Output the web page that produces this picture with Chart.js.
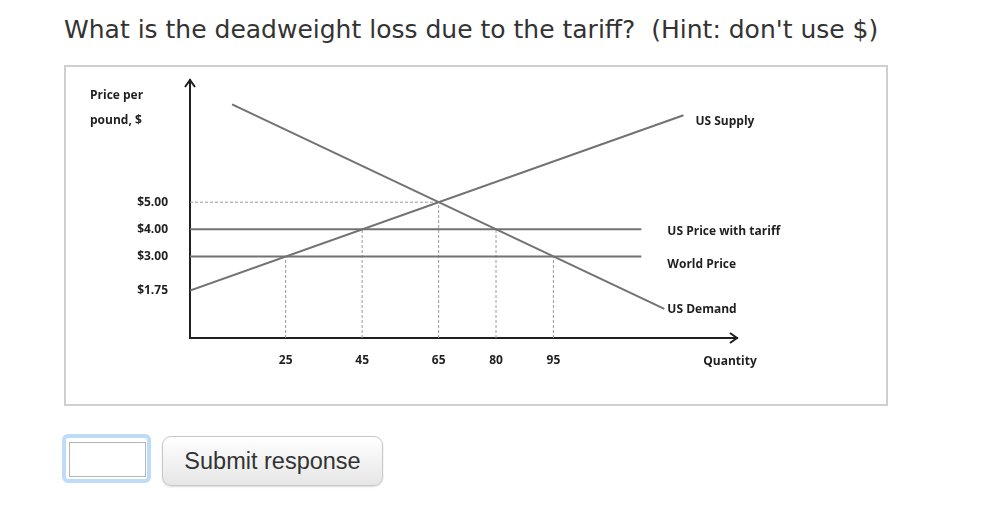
<!DOCTYPE html>
<html>
<head>
<meta charset="utf-8">
<script src="https://cdn.jsdelivr.net/npm/chart.js@4"></script>
<style>
  body{margin:0;background:#fff;font-family:"DejaVu Sans",sans-serif;}
  .q{position:absolute;left:64px;top:15px;font-size:25px;color:#333;white-space:nowrap;}
  .box{position:absolute;left:64px;top:65px;width:824px;height:341px;box-sizing:border-box;border:2px solid #cfcfcf;}
  .box canvas{position:absolute;left:0;top:0;}
  .ans{position:absolute;left:62px;top:434px;width:89px;height:49px;box-sizing:border-box;border:4px solid #bcdcf7;border-radius:6px;background:#fff;}
  .ans div{position:absolute;left:3px;top:4px;width:75px;height:33px;border:1px solid #b5b5b5;}
  .btn{position:absolute;left:162px;top:436px;width:221px;height:50px;box-sizing:border-box;border:1px solid #c8c8c8;border-radius:9px;
       background:linear-gradient(#ffffff,#e6e6e6);box-shadow:0 1px 2px rgba(0,0,0,.15);font:23.5px "Liberation Sans",Arial,sans-serif;color:#333;
       text-align:center;line-height:48px;}
</style>
</head>
<body>
<div class="q">What is the deadweight loss due to the tariff?&nbsp; (Hint: don't use $)</div>
<div class="box"><canvas id="tariffChart" width="820" height="337"></canvas></div>
<div class="ans"><div></div></div>
<div class="btn">Submit response</div>
<script>
const qtyTicks = [25, 45, 65, 80, 95];
const priceTicks = [1.75, 3, 4, 5];
const priceLabels = ['$1.75', '$3.00', '$4.00', '$5.00'];
const supplyQ = [0, 129];
const supplyP = [1.75, 8.2];
const demandQ = [11, 124];
const demandP = [8.6, 1.07];
const tariffPrice = 4;
const worldPrice = 3;
const noTradePrice = 5;
const noTradeQ = 65;
const priceLineEnd = 118;
const dropQ = [25, 45, 65, 80, 95];
const dropP = [3, 4, 5, 4, 3];

const ink = '#1f1f1f', lineGrey = '#727272', dashGrey = '#9a9a9a';
const fontFamily = '"Open Sans", sans-serif';
const labelFont = 'bold 12px ' + fontFamily;

const pts = (xs, ys) => xs.map((x, i) => ({x, y: ys[i]}));
const solid = (data, label) => ({label, data, showLine:true, borderColor:lineGrey, borderWidth:2, pointRadius:0});
const dashed = data => ({data, showLine:true, borderColor:dashGrey, borderWidth:1, borderDash:[3,2], pointRadius:0});

const datasets = [
  solid(pts(supplyQ, supplyP), 'US Supply'),
  solid(pts(demandQ, demandP), 'US Demand'),
  solid(pts([0, priceLineEnd], [tariffPrice, tariffPrice]), 'US Price with tariff'),
  solid(pts([0, priceLineEnd], [worldPrice, worldPrice]), 'World Price'),
  dashed(pts([0, noTradeQ], [noTradePrice, noTradePrice])),
  ...dropQ.map((q, i) => dashed(pts([q, q], [0, dropP[i]])))
];

// arrows, axis caption and line labels
const notes = {
  id:'notes',
  afterDatasetsDraw(c){
    const {ctx, chartArea:a, scales:{x, y}} = c;
    ctx.save();
    ctx.strokeStyle = ink; ctx.lineWidth = 2;
    ctx.beginPath();
    ctx.moveTo(a.left - 5, a.top + 7); ctx.lineTo(a.left, a.top); ctx.lineTo(a.left + 5, a.top + 7);
    ctx.moveTo(a.right - 7, a.bottom - 5); ctx.lineTo(a.right, a.bottom); ctx.lineTo(a.right - 7, a.bottom + 5);
    ctx.stroke();
    ctx.fillStyle = ink; ctx.font = labelFont; ctx.textBaseline = 'middle';
    ctx.textAlign = 'left';
    ctx.fillText('Price per', 24, 29);
    ctx.fillText('pound, $', 24, 54);
    const sx = x.getPixelForValue(supplyQ[1]), sy = y.getPixelForValue(supplyP[1]);
    ctx.fillText('US Supply', sx + 12, sy + 6);
    const px = x.getPixelForValue(priceLineEnd);
    ctx.fillText('US Price with tariff', px + 26, y.getPixelForValue(tariffPrice) + 2);
    ctx.fillText('World Price', px + 26, y.getPixelForValue(worldPrice) + 8);
    const dy = y.getPixelForValue(demandP[1]);
    ctx.fillText('US Demand', px + 26, dy + 1);
    ctx.textAlign = 'center';
    ctx.fillText('Quantity', a.right - 7, a.bottom + 24);
    ctx.restore();
  }
};

const tickFont = { family:fontFamily, size:12, weight:'bold' };

new Chart(document.getElementById('tariffChart'), {
  type:'scatter',
  data:{ datasets },
  options:{
    responsive:false, animation:false,
    layout:{ padding:{ left:0, top:13, right:149, bottom:0 } },
    plugins:{ legend:{ display:false }, tooltip:{ enabled:false } },
    scales:{
      x:{ type:'linear', min:0, max:143,
          grid:{ display:false, drawTicks:false }, border:{ color:ink, width:2 },
          ticks:{ color:ink, font:tickFont, padding:15, maxRotation:0, autoSkip:false },
          afterBuildTicks: s => { s.ticks = qtyTicks.map(v => ({value:v})); },
          afterFit: s => { s.height = 66; s.paddingLeft = 0; s.paddingRight = 0; } },
      y:{ type:'linear', min:0, max:9.5,
          grid:{ display:false, drawTicks:false }, border:{ color:ink, width:2 },
          ticks:{ color:ink, font:tickFont, padding:22,
                  callback: v => priceLabels[priceTicks.indexOf(v)] },
          afterBuildTicks: s => { s.ticks = priceTicks.map(v => ({value:v})); },
          afterFit: s => { s.width = 124; s.paddingTop = 0; s.paddingBottom = 0; } }
    }
  },
  plugins:[notes]
});
</script>
</body>
</html>
